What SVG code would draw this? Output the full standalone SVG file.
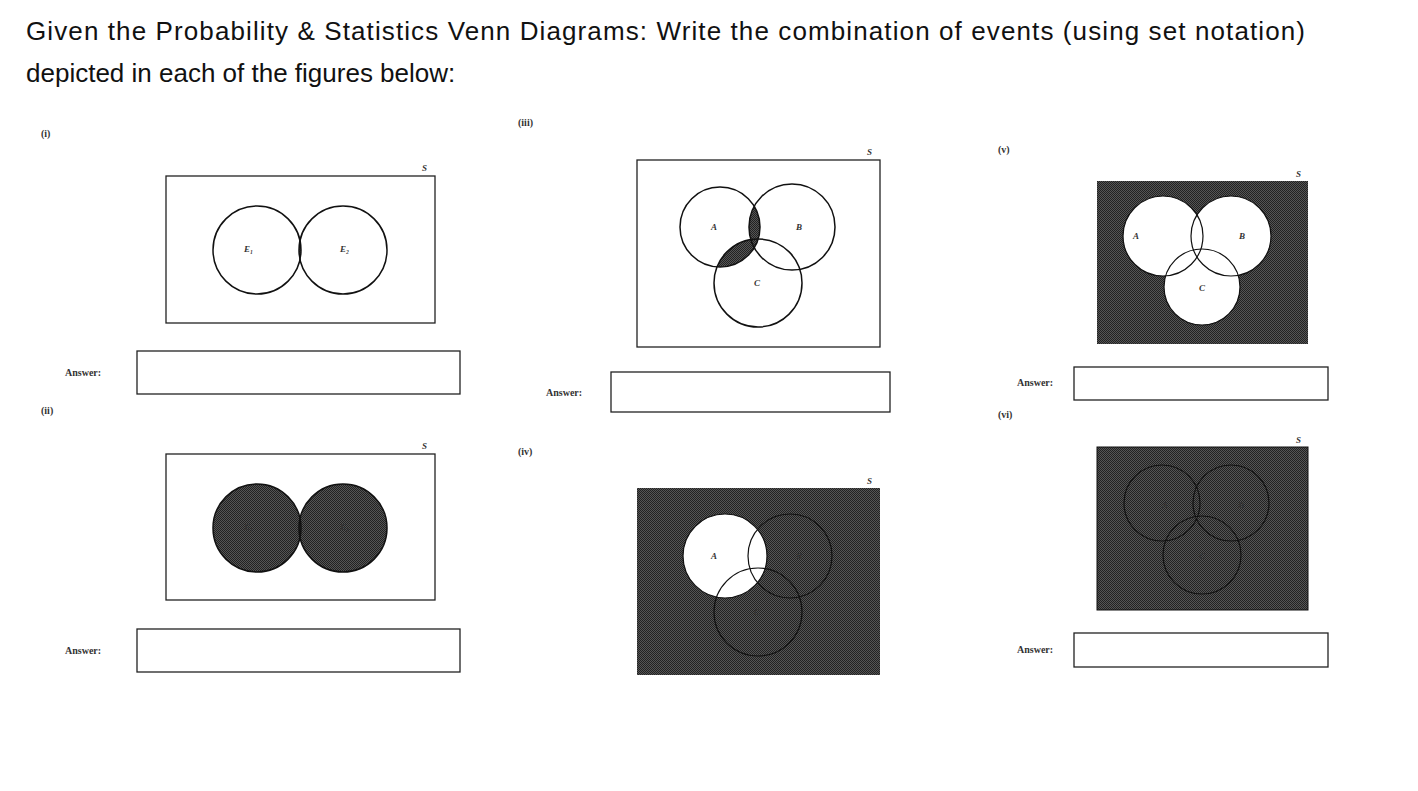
<svg xmlns="http://www.w3.org/2000/svg" width="1418" height="791" viewBox="0 0 1418 791">
<defs>
<pattern id="dk" width="2" height="2" patternUnits="userSpaceOnUse"><rect width="2" height="2" fill="#555"/><rect width="1" height="1" fill="#222"/><rect x="1" y="1" width="1" height="1" fill="#222"/></pattern>
<clipPath id="cA3"><circle cx="720" cy="227" r="40"/></clipPath>
<clipPath id="cB3"><circle cx="792" cy="227" r="43"/></clipPath>
<clipPath id="cC3"><circle cx="758" cy="283" r="44"/></clipPath>
<clipPath id="cA6"><circle cx="1162" cy="503" r="38"/></clipPath>
<clipPath id="cB6"><circle cx="1231" cy="503" r="38"/></clipPath>
<clipPath id="cE1"><circle cx="257" cy="250" r="44"/></clipPath>
<clipPath id="cE1b"><circle cx="257" cy="528" r="44"/></clipPath>
</defs>
<style>
.t{font-family:"Liberation Sans",Arial,sans-serif;font-size:26px;fill:#111}
.s{font-family:"Liberation Serif",serif;font-size:10px;font-weight:bold;fill:#333}
.l{font-family:"Liberation Serif",serif;font-size:9px;font-weight:bold;font-style:italic;fill:#333}
.o{fill:none;stroke:#111;stroke-width:1.5}
.w{fill:#fff;stroke:#111;stroke-width:1.5}
.ob{fill:none;stroke:#111;stroke-width:1.2}
.box{fill:#fff;stroke:#222;stroke-width:1.3}
</style>
<rect width="1418" height="791" fill="#fff"/>
<text class="t" x="26" y="40" textLength="1279">Given the Probability &amp; Statistics Venn Diagrams: Write the combination of events (using set notation)</text>
<text class="t" x="26" y="82">depicted in each of the figures below:</text>

<g id="fig1">
<text class="s" x="41" y="137">(i)</text>
<rect class="box" x="166" y="176" width="269" height="147"/>
<g clip-path="url(#cE1)"><circle cx="343" cy="250" r="44" fill="url(#dk)"/></g>
<circle class="o" cx="257" cy="250" r="44"/><circle class="o" cx="343" cy="250" r="44"/>
<text class="l" x="422" y="171">S</text>
<text class="l" x="244" y="252">E₁</text><text class="l" x="340" y="252">E₂</text>
<text class="s" x="65" y="376">Answer:</text>
<rect class="box" x="137" y="351" width="323" height="43"/>
</g>

<g id="fig2">
<text class="s" x="41" y="414">(ii)</text>
<rect class="box" x="166" y="454" width="269" height="146"/>
<circle cx="257" cy="528" r="44" fill="url(#dk)"/><circle cx="343" cy="528" r="44" fill="url(#dk)"/>
<g clip-path="url(#cE1b)"><circle cx="343" cy="528" r="44" fill="#222" opacity="0.6"/></g>
<circle class="o" cx="257" cy="528" r="44"/><circle class="o" cx="343" cy="528" r="44"/>
<text class="l" x="422" y="449">S</text>
<text class="l" x="244" y="530" fill="#555">E₁</text><text class="l" x="340" y="530" fill="#555">E₂</text>
<text class="s" x="65" y="654">Answer:</text>
<rect class="box" x="137" y="629" width="323" height="43"/>
</g>

<g id="fig3">
<text class="s" x="518" y="126">(iii)</text>
<rect class="box" x="637" y="160" width="243" height="187"/>
<g clip-path="url(#cA3)"><circle cx="792" cy="227" r="43" fill="url(#dk)"/><circle cx="758" cy="283" r="44" fill="url(#dk)"/></g>
<circle class="o" cx="720" cy="227" r="40"/><circle class="o" cx="792" cy="227" r="43"/><circle class="o" cx="758" cy="283" r="44"/>
<text class="l" x="867" y="155">S</text>
<text class="l" x="711" y="230">A</text><text class="l" x="796" y="230">B</text><text class="l" x="754" y="286">C</text>
<text class="s" x="546" y="396">Answer:</text>
<rect class="box" x="611" y="372" width="279" height="40"/>
</g>

<g id="fig4">
<text class="s" x="518" y="455">(iv)</text>
<rect x="637" y="488" width="243" height="187" fill="url(#dk)"/>
<circle cx="725" cy="556" r="42" fill="#fff"/>
<circle class="ob" cx="725" cy="556" r="42"/><circle class="ob" cx="790" cy="556" r="42"/><circle class="ob" cx="758" cy="612" r="44"/>
<text class="l" x="867" y="484">S</text>
<text class="l" x="711" y="559">A</text><text class="l" x="796" y="559" fill="#222">B</text><text class="l" x="754" y="615" fill="#222">C</text>
</g>

<g id="fig5">
<text class="s" x="998" y="153">(v)</text>
<rect x="1097" y="181" width="211" height="163" fill="url(#dk)"/>
<circle cx="1163" cy="236" r="40" fill="#fff"/><circle cx="1231" cy="236" r="40" fill="#fff"/><circle cx="1202" cy="287" r="38" fill="#fff"/>
<circle class="ob" cx="1163" cy="236" r="40"/><circle class="ob" cx="1231" cy="236" r="40"/><circle class="ob" cx="1202" cy="287" r="38"/>
<text class="l" x="1296" y="177">S</text>
<text class="l" x="1133" y="239">A</text><text class="l" x="1239" y="239">B</text><text class="l" x="1199" y="291">C</text>
<text class="s" x="1017" y="386">Answer:</text>
<rect class="box" x="1074" y="367" width="254" height="33"/>
</g>

<g id="fig6">
<text class="s" x="998" y="418">(vi)</text>
<rect x="1097" y="447" width="211" height="163" fill="url(#dk)" stroke="#111"/>
<g clip-path="url(#cA6)"><g clip-path="url(#cB6)"><circle cx="1202" cy="555" r="39" fill="#fff"/></g></g>
<circle class="ob" cx="1162" cy="503" r="38"/><circle class="ob" cx="1231" cy="503" r="38"/><circle class="ob" cx="1202" cy="555" r="39"/>
<text class="l" x="1296" y="443">S</text>
<text class="l" x="1162" y="508" fill="#111">A</text><text class="l" x="1238" y="508" fill="#111">B</text><text class="l" x="1199" y="559" fill="#111">C</text>
<text class="s" x="1017" y="653">Answer:</text>
<rect class="box" x="1074" y="633" width="254" height="34"/>
</g>
</svg>
